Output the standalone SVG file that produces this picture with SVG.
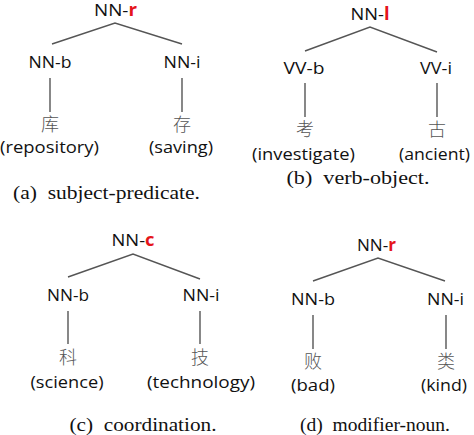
<svg xmlns="http://www.w3.org/2000/svg" width="474" height="435" viewBox="0 0 474 435">
<style>
.lab{font-family:"Open Sans","Noto Sans",sans-serif;font-size:17px;fill:#111;text-anchor:middle}
.red{fill:#e5141b;font-weight:bold}
.zh{font-family:"Noto Sans CJK SC",sans-serif;font-size:18px;fill:#555;text-anchor:middle;font-weight:300}
.cap{font-family:"Liberation Serif","Times New Roman",serif;font-size:18px;fill:#111;text-anchor:middle;white-space:pre}
.ln{stroke:#555;stroke-width:1.4;fill:none}
</style>
<rect width="474" height="435" fill="#fff"/>
<g id="connectors">
<polyline class="ln" points="52,44 115,23 182,44"/>
<line class="ln" x1="50" y1="78" x2="50" y2="112"/>
<line class="ln" x1="182" y1="78" x2="182" y2="112"/>
<polyline class="ln" points="305,51 370,27 437,52"/>
<line class="ln" x1="305" y1="83" x2="305" y2="117"/>
<line class="ln" x1="437" y1="83" x2="437" y2="117"/>
<polyline class="ln" points="68,277 133,254 200,279"/>
<line class="ln" x1="68" y1="311" x2="68" y2="344"/>
<line class="ln" x1="200" y1="311" x2="200" y2="344"/>
<polyline class="ln" points="313,281 378,258 445,281"/>
<line class="ln" x1="313" y1="315" x2="313" y2="349"/>
<line class="ln" x1="446" y1="315" x2="446" y2="349"/>
</g>
<g id="a-root"><text class="lab" x="115.5" y="15.5" textLength="43" lengthAdjust="spacingAndGlyphs">NN-<tspan class="red">r</tspan></text></g>
<g id="a-left"><text class="lab" x="50" y="67.5" textLength="43" lengthAdjust="spacingAndGlyphs">NN-b</text></g>
<g id="a-right"><text class="lab" x="182" y="67.5" textLength="37" lengthAdjust="spacingAndGlyphs">NN-i</text></g>
<g id="a-left-leaf"><text class="zh" x="50" y="131">库</text><text class="lab" x="49.5" y="152.5" textLength="99" lengthAdjust="spacingAndGlyphs">(repository)</text></g>
<g id="a-right-leaf"><text class="zh" x="182" y="131">存</text><text class="lab" x="181" y="152.5" textLength="64" lengthAdjust="spacingAndGlyphs">(saving)</text></g>
<text class="cap" x="106.5" y="199" textLength="187" lengthAdjust="spacingAndGlyphs">(a)  subject-predicate.</text>

<g id="b-root"><text class="lab" x="370" y="20" textLength="39" lengthAdjust="spacingAndGlyphs">NN-<tspan class="red">l</tspan></text></g>
<g id="b-left"><text class="lab" x="304" y="74" textLength="41" lengthAdjust="spacingAndGlyphs">VV-b</text></g>
<g id="b-right"><text class="lab" x="436" y="74" textLength="32" lengthAdjust="spacingAndGlyphs">VV-i</text></g>
<g id="b-left-leaf"><text class="zh" x="305" y="136">考</text><text class="lab" x="303.5" y="160" textLength="103" lengthAdjust="spacingAndGlyphs">(investigate)</text></g>
<g id="b-right-leaf"><text class="zh" x="437" y="136">古</text><text class="lab" x="434.5" y="160" textLength="71" lengthAdjust="spacingAndGlyphs">(ancient)</text></g>
<text class="cap" x="358" y="184" textLength="143" lengthAdjust="spacingAndGlyphs">(b)  verb-object.</text>

<g id="c-root"><text class="lab" x="133" y="246" textLength="43" lengthAdjust="spacingAndGlyphs">NN-<tspan class="red">c</tspan></text></g>
<g id="c-left"><text class="lab" x="68" y="301" textLength="42" lengthAdjust="spacingAndGlyphs">NN-b</text></g>
<g id="c-right"><text class="lab" x="201" y="301" textLength="37" lengthAdjust="spacingAndGlyphs">NN-i</text></g>
<g id="c-left-leaf"><text class="zh" x="68" y="364">科</text><text class="lab" x="67" y="388" textLength="73" lengthAdjust="spacingAndGlyphs">(science)</text></g>
<g id="c-right-leaf"><text class="zh" x="200" y="364">技</text><text class="lab" x="201" y="388" textLength="108" lengthAdjust="spacingAndGlyphs">(technology)</text></g>
<text class="cap" x="143" y="431" textLength="147" lengthAdjust="spacingAndGlyphs">(c)  coordination.</text>

<g id="d-root"><text class="lab" x="376.5" y="251" textLength="39" lengthAdjust="spacingAndGlyphs">NN-<tspan class="red">r</tspan></text></g>
<g id="d-left"><text class="lab" x="313" y="305" textLength="44" lengthAdjust="spacingAndGlyphs">NN-b</text></g>
<g id="d-right"><text class="lab" x="445.5" y="305" textLength="37" lengthAdjust="spacingAndGlyphs">NN-i</text></g>
<g id="d-left-leaf"><text class="zh" x="313" y="368">败</text><text class="lab" x="313" y="391" textLength="44" lengthAdjust="spacingAndGlyphs">(bad)</text></g>
<g id="d-right-leaf"><text class="zh" x="446" y="368">类</text><text class="lab" x="444" y="391" textLength="46" lengthAdjust="spacingAndGlyphs">(kind)</text></g>
<text class="cap" x="375" y="431" textLength="150" lengthAdjust="spacingAndGlyphs">(d)  modifier-noun.</text>
</svg>
